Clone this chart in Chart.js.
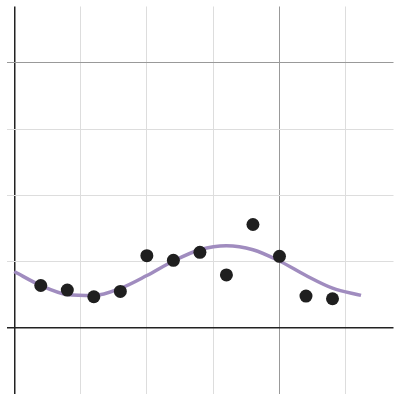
<!DOCTYPE html>
<html>
<head>
<meta charset="utf-8">
<script src="https://cdn.jsdelivr.net/npm/chart.js@4"></script>
<style>
  html, body { margin: 0; padding: 0; background: #fff; }
  #wrap { width: 400px; height: 400px; }
</style>
</head>
<body>
<div id="wrap"><canvas id="c"></canvas></div>
<script>
// Scatter points
const pointX = [0.4, 0.8, 1.2, 1.6, 2.0, 2.4, 2.8, 3.2, 3.6, 4.0, 4.4, 4.8];
const pointY = [0.64, 0.57, 0.47, 0.55, 1.09, 1.02, 1.14, 0.80, 1.56, 1.08, 0.48, 0.44];

// Fitted curve
const curveX = [0, 0.4, 0.8, 1.2, 1.6, 2.0, 2.4, 2.8, 3.2, 3.6, 4.0, 4.4, 4.8, 5.23];
const curveY = [0.85, 0.64, 0.505, 0.49, 0.596, 0.79, 1.01, 1.18, 1.24, 1.18, 1.01, 0.79, 0.60, 0.49];

const gridTicks = [0, 1, 2, 3, 4, 5];

const gridColor = ctx => {
  const v = ctx.tick?.value;
  if (v === 0) return '#222';
  if (v === 4) return '#999';
  return '#ddd';
};

const axis = (min, max) => ({
  type: 'linear',
  min, max,
  border: { display: false },
  ticks: { display: false, padding: 0 },
  grid: { color: gridColor, lineWidth: ctx => (ctx.tick?.value === 0 ? 1.5 : 1), drawTicks: false, tickLength: 0 },
  afterBuildTicks: s => { s.ticks = gridTicks.map(v => ({ value: v })); },
  afterFit: s => { s.width = 0; s.height = 0; },
});

new Chart(document.getElementById('c'), {
  type: 'scatter',
  data: {
    datasets: [
      {
        label: 'points',
        data: pointX.map((x, i) => ({ x, y: pointY[i] })),
        backgroundColor: '#1f1f1f',
        borderWidth: 0,
        pointRadius: 6.5,
        order: 1,
      },
      {
        label: 'curve',
        type: 'line',
        data: curveX.map((x, i) => ({ x, y: curveY[i] })),
        borderColor: '#a08cbf',
        borderWidth: 3.5,
        pointRadius: 0,
        cubicInterpolationMode: 'monotone',
        fill: false,
        order: 2,
      },
    ],
  },
  options: {
    responsive: true,
    maintainAspectRatio: false,
    animation: false,
    layout: { padding: 0 },
    plugins: { legend: { display: false }, tooltip: { enabled: false } },
    scales: {
      x: axis(-0.117, 5.72),
      y: axis(-0.99, 4.85),
    },
  },
});
</script>
</body>
</html>
